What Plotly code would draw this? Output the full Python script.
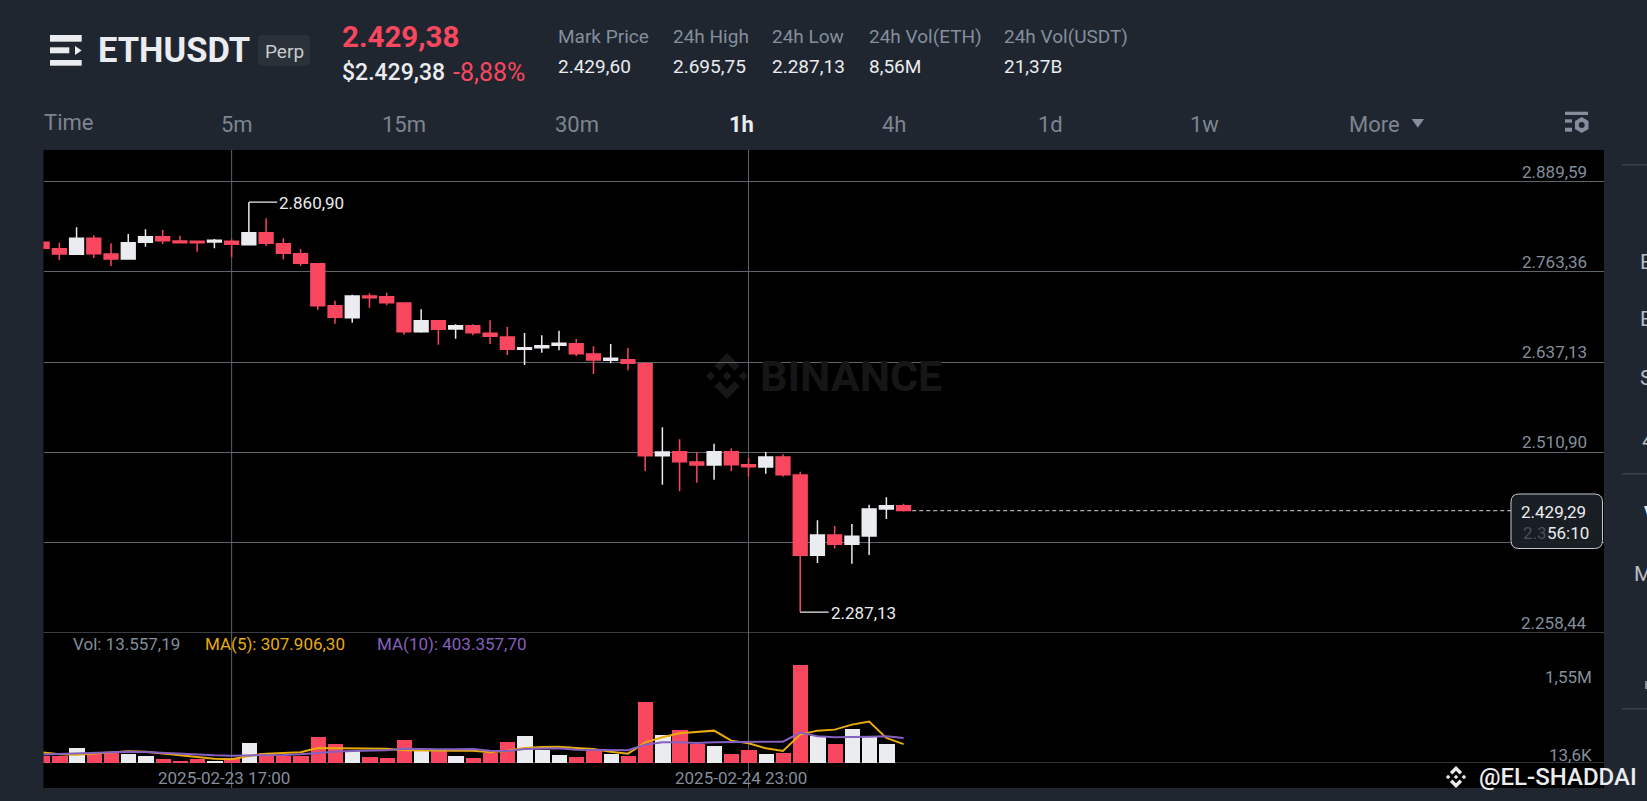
import plotly.graph_objects as go

W, H = 1647, 801

# candles, one hour each, index 0 is cut by the left edge
opens = [2804.7, 2795.9, 2787.9, 2810.3, 2788.4, 2781.4, 2804.7, 2812.7, 2806.6, 2806.1, 2805.2, 2806.1, 2801.5,
         2818.3, 2802.9, 2788.9, 2774.9, 2716.1, 2699.3, 2729.6, 2728.7, 2719.8, 2679.7, 2695.1, 2683.5, 2688.1,
         2677.4, 2672.3, 2655.0, 2657.3, 2660.6, 2662.9, 2648.5, 2639.6, 2640.5, 2634.9, 2506.2, 2511.8, 2497.3,
         2493.1, 2511.8, 2493.6, 2490.3, 2504.3, 2479.1, 2366.7, 2395.2, 2382.1, 2393.8, 2431.6, 2436.2]
highs = [2804.7, 2804.3, 2825.7, 2814.5, 2803.3, 2816.4, 2822.9, 2822.0, 2814.1, 2806.1, 2809.4, 2808.9, 2860.90,
         2838.3, 2810.3, 2795.0, 2774.9, 2723.1, 2731.5, 2733.4, 2734.3, 2720.3, 2711.0, 2696.0, 2690.0, 2690.0,
         2695.6, 2686.3, 2677.9, 2674.6, 2681.1, 2669.5, 2659.2, 2662.5, 2656.9, 2637.3, 2545.8, 2529.1, 2511.3,
         2523.0, 2516.5, 2503.4, 2511.3, 2508.1, 2483.8, 2415.7, 2407.8, 2410.6, 2437.6, 2447.9, 2438.9]
lows = [2796.3, 2780.0, 2787.5, 2782.8, 2771.6, 2780.9, 2798.7, 2802.4, 2803.8, 2791.7, 2796.3, 2783.8, 2800.5,
        2799.6, 2780.9, 2771.6, 2710.0, 2690.9, 2692.3, 2713.3, 2716.6, 2675.5, 2678.3, 2661.5, 2669.9, 2674.6,
        2662.5, 2647.1, 2633.1, 2650.3, 2653.6, 2645.7, 2620.5, 2635.4, 2625.6, 2484.7, 2465.6, 2456.3, 2468.4,
        2472.6, 2484.3, 2476.8, 2481.0, 2476.8, 2287.13, 2356.0, 2376.1, 2355.1, 2367.2, 2417.6, 2428.0]
closes = [2796.3, 2788.4, 2810.3, 2788.9, 2781.4, 2804.3, 2812.7, 2807.1, 2804.3, 2804.3, 2807.5, 2801.9, 2818.3,
          2803.3, 2789.3, 2775.4, 2716.1, 2699.8, 2729.6, 2727.3, 2720.3, 2679.7, 2695.1, 2683.0, 2688.1, 2678.3,
          2673.2, 2655.0, 2657.3, 2660.1, 2663.4, 2648.9, 2640.1, 2642.4, 2635.4, 2506.2, 2511.3, 2497.8, 2493.1,
          2511.8, 2493.6, 2490.8, 2504.3, 2479.6, 2366.7, 2395.2, 2382.1, 2393.3, 2431.6, 2436.2, 2429.29]
volumes = [122600, 133000, 257500, 153700, 174500, 164100, 127800, 86300, 44700, 86300, 44700, 91500, 325000,
           179700, 133000, 133000, 428800, 309400, 200400, 117400, 101800, 376900, 200400, 200400, 122600, 96600,
           179700, 350900, 434000, 216000, 138200, 117400, 242000, 158900, 133000, 963400, 449600, 527400, 319800,
           278300, 164100, 221200, 153700, 174500, 1550000, 439200, 309400, 543000, 418400, 309400, 13557.19]
ma5 = [179700, 148500, 143400, 158900, 179700, 195300, 190100, 164100, 127800, 101800, 81100, 70700, 122600,
       158900, 169300, 179700, 247200, 247200, 247200, 242000, 236800, 210800, 205600, 210800, 205600, 205600,
       179700, 205600, 247200, 262700, 267900, 247200, 231600, 190100, 158900, 335400, 413200, 475500, 496300,
       517000, 361300, 319800, 242000, 200400, 454800, 517000, 532600, 610400, 657200, 402900, 307906.30]
ma10 = [143400, 153700, 164100, 169300, 179700, 190100, 184900, 169300, 153700, 143400, 133000, 127800, 127800,
        133000, 138200, 148500, 174500, 190100, 200400, 205600, 210800, 236800, 226400, 226400, 226400, 231600,
        205600, 200400, 231600, 242000, 242000, 221200, 221200, 210800, 210800, 299000, 335400, 335400, 325000,
        335400, 340600, 345800, 345800, 345800, 485900, 428800, 413200, 413200, 423600, 428800, 403357.70]

price_ticks = [2889.59, 2763.36, 2637.13, 2510.90, 2384.67, 2258.44]
price_labels = ['2.889,59', '2.763,36', '2.637,13', '2.510,90', None, '2.258,44']  # 2.384,67 is behind the price box
vol_ticks = [1550000, 13600]
vol_labels = ['1,55M', '13,6K']
time_ticks = [11, 41]
time_labels = ['2025-02-23 17:00', '2025-02-24 23:00']

RED = '#F9475F'
WHITE = '#EAECEF'
BG = '#1F2630'
GRID = '#5E646C'
GRAY = '#848E9C'
FONT = 'Roboto'

idx = list(range(len(opens)))
bar_colors = [WHITE if c > o else RED for o, c in zip(opens, closes)]


def fx(x):
    return x / W


def fy(y):
    return 1 - y / H


def txt(x, y, s, size=19, color=WHITE, anchor='left', weight=None, **kw):
    return dict(x=fx(x), y=fy(y), xref='paper', yref='paper', text=s, showarrow=False, xanchor=anchor,
                yanchor='middle', font=dict(family=FONT, size=size, color=color, weight=weight), **kw)


def rect(x0, y0, x1, y1, color, layer='above', **kw):
    return dict(type='rect', xref='paper', yref='paper', x0=fx(x0), x1=fx(x1), y0=fy(y0), y1=fy(y1),
                fillcolor=color, line=dict(width=0), layer=layer, **kw)


def poly(points, color, layer='above'):
    path = 'M ' + ' L '.join(f'{fx(x)} {fy(y)}' for x, y in points) + ' Z'
    return dict(type='path', xref='paper', yref='paper', path=path, fillcolor=color, line=dict(width=0), layer=layer)


def round_rect(x0, y0, x1, y1, r, fill, line, layer='above'):
    p = lambda x, y: f'{fx(x)} {fy(y)}'
    path = (f'M {p(x0 + r, y0)} L {p(x1 - r, y0)} Q {p(x1, y0)} {p(x1, y0 + r)} L {p(x1, y1 - r)} '
            f'Q {p(x1, y1)} {p(x1 - r, y1)} L {p(x0 + r, y1)} Q {p(x0, y1)} {p(x0, y1 - r)} '
            f'L {p(x0, y0 + r)} Q {p(x0, y0)} {p(x0 + r, y0)} Z')
    return dict(type='path', xref='paper', yref='paper', path=path, fillcolor=fill, line=line, layer=layer)


# binance diamond logo, r is half the width
def logo(cx, cy, r, color, layer):
    out = []
    for ox, oy, d in [(0, 0, .2), (-.72, 0, .2), (.72, 0, .2)]:
        pts = [(ox, oy - d), (ox + d, oy), (ox, oy + d), (ox - d, oy)]
        out.append(poly([(cx + a * r, cy + b * r) for a, b in pts], color, layer))
    chev = [(0, -1), (.55, -.45), (.33, -.23), (0, -.56), (-.33, -.23), (-.55, -.45)]
    for sign in (1, -1):
        out.append(poly([(cx + a * r, cy + sign * b * r) for a, b in chev], color, layer))
    return out


fig = go.Figure()
fig.add_trace(go.Candlestick(x=idx, open=opens, high=highs, low=lows, close=closes, whiskerwidth=0,
                             increasing=dict(line=dict(color=WHITE, width=1.5), fillcolor=WHITE),
                             decreasing=dict(line=dict(color=RED, width=1.5), fillcolor=RED),
                             hoverinfo='skip', showlegend=False))

# callouts for the high and the low
hi_i = highs.index(max(highs))
lo_i = lows.index(min(lows))
fig.add_trace(go.Scatter(x=[hi_i, hi_i + 1.65], y=[highs[hi_i]] * 2, mode='lines', hoverinfo='skip',
                         line=dict(color=WHITE, width=1.3), showlegend=False))
fig.add_trace(go.Scatter(x=[lo_i, lo_i + 1.65], y=[lows[lo_i]] * 2, mode='lines', hoverinfo='skip',
                         line=dict(color=WHITE, width=1.3), showlegend=False))
# last price
fig.add_trace(go.Scatter(x=[idx[-1] + .5, 85.3], y=[closes[-1]] * 2, mode='lines', hoverinfo='skip',
                         line=dict(color='#A9AEB4', width=1.2, dash='4px,3px'), showlegend=False))

fig.add_trace(go.Bar(x=idx, y=volumes, width=.89, marker=dict(color=bar_colors, line=dict(width=0)),
                     yaxis='y2', hoverinfo='skip', showlegend=False))
fig.add_trace(go.Scatter(x=idx, y=ma5, mode='lines', yaxis='y2', hoverinfo='skip', showlegend=False,
                         line=dict(color='#E8AC0C', width=2)))
fig.add_trace(go.Scatter(x=idx, y=ma10, mode='lines', yaxis='y2', hoverinfo='skip', showlegend=False,
                         line=dict(color='#8560BE', width=2)))

notes = [
    txt(96, 50, 'ETHUSDT', 34.5, WHITE, weight=700),
    txt(284, 51, 'Perp', 19, '#C8CBD0', 'center'),
    txt(340, 37, '2.429,38', 29.5, RED, weight=700),
    txt(340, 72, '$2.429,38', 23, WHITE, weight=500),
    txt(451, 72, '-8,88%', 25, RED),
]
for x, lab, val in [(556, 'Mark Price', '2.429,60'), (671, '24h High', '2.695,75'), (770, '24h Low', '2.287,13'),
                    (867, '24h Vol(ETH)', '8,56M'), (1002, '24h Vol(USDT)', '21,37B')]:
    notes.append(txt(x, 36, lab, 19, GRAY))
    notes.append(txt(x, 67, val, 19, WHITE))

notes.append(txt(42, 122, 'Time', 22, '#7E8590'))
for x, lab in [(237, '5m'), (404, '15m'), (577, '30m'), (894, '4h'), (1050, '1d'), (1204, '1w')]:
    notes.append(txt(x, 125, lab, 22, '#7E8590', 'center'))
notes.append(txt(741, 125, '1h', 22, WHITE, 'center', weight=700))
notes.append(txt(1374, 125, 'More', 22, '#7E8590', 'center'))

# watermark
notes.append(txt(758, 376, 'BINANCE', 43, '#161616', weight=700))

# price labels sit just above their grid line
for t, lab in zip(price_ticks, price_labels):
    if lab:
        notes.append(dict(x=fx(1589), y=t, xref='paper', yref='y', text=lab, showarrow=False, xanchor='right',
                          yanchor='bottom', yshift=-2, font=dict(family=FONT, size=17, color=GRAY)))
for t, lab in zip(vol_ticks, vol_labels):
    notes.append(dict(x=fx(1594), y=t, xref='paper', yref='y2', text=lab, showarrow=False, xanchor='right',
                      yanchor='bottom' if t == vol_ticks[-1] else 'top', yshift=-4 if t == vol_ticks[-1] else -1,
                      font=dict(family=FONT, size=17, color=GRAY)))
for t, lab in zip(time_ticks, time_labels):
    notes.append(dict(x=t, y=fy(778), xref='x', yref='paper', text=lab, showarrow=False, xanchor='center',
                      yanchor='middle', xshift=-8, font=dict(family=FONT, size=17, color=GRAY)))

notes.append(dict(x=hi_i + 1.65, y=highs[hi_i], xref='x', yref='y', text='2.860,90', showarrow=False,
                  xanchor='left', yanchor='middle', yshift=-1, font=dict(family=FONT, size=17, color=WHITE)))
notes.append(dict(x=lo_i + 1.65, y=lows[lo_i], xref='x', yref='y', text='2.287,13', showarrow=False,
                  xanchor='left', yanchor='middle', yshift=-1, font=dict(family=FONT, size=17, color=WHITE)))

notes.append(txt(1588, 512, '2.429,29', 17, WHITE, 'right'))
notes.append(txt(1521, 533, '2.3', 17, '#4A4F56'))
notes.append(txt(1591, 533, '56:10', 17, WHITE, 'right'))

notes.append(txt(71, 644, 'Vol: 13.557,19', 17, GRAY))
notes.append(txt(203, 644, 'MA(5): 307.906,30', 17, '#E8AC0C'))
notes.append(txt(375, 644, 'MA(10): 403.357,70', 17, '#8560BE'))

notes.append(txt(1477, 777, '@EL-SHADDAI', 24, WHITE, weight=500))

# side panel that is cut off by the right edge of the picture
for x, y, lab, col, wt in [(1638, 262, 'E', '#B7BDC6', None), (1638, 319, 'E', '#B7BDC6', None),
                           (1638, 378, 'S', '#B7BDC6', None), (1640, 441, '4', '#B7BDC6', None),
                           (1642, 514, 'V', WHITE, 700), (1632, 574, 'M', '#B7BDC6', None)]:
    notes.append(txt(x, y, lab, 21, col, weight=wt))

shapes = [rect(43.5, 150, 1604, 788, '#000000', 'below')]
shapes += logo(727, 376, 23, '#171717', 'below')
# vertical grid runs through both panes
for t in time_ticks:
    shapes.append(dict(type='line', xref='x', yref='paper', x0=t, x1=t, y0=fy(788), y1=fy(150),
                       line=dict(color=GRID, width=1), layer='below'))
# grid lines that fall on the edge of a pane
shapes.append(dict(type='line', xref='paper', yref='y', x0=fx(43.5), x1=fx(1604), y0=price_ticks[-1], y1=price_ticks[-1],
                   line=dict(color=GRID, width=1), layer='below'))
shapes.append(dict(type='line', xref='paper', yref='y2', x0=fx(43.5), x1=fx(1604), y0=vol_ticks[-1], y1=vol_ticks[-1],
                   line=dict(color=GRID, width=1), layer='below'))
# price box
shapes.append(round_rect(1511, 494, 1602.5, 548.5, 8, 'rgba(27,31,38,0.94)', dict(color='#C5C8CC', width=1)))

# header icon
shapes += [rect(50, 35, 81.7, 41.7, WHITE), rect(50, 47.3, 69.3, 53.3, WHITE), rect(50, 60, 81.7, 65.7, WHITE),
           poly([(75, 46), (81.7, 50.5), (75, 55)], WHITE)]
shapes.append(round_rect(258, 35, 310, 65.7, 4, '#2B3139', dict(width=0), 'below'))
shapes.append(poly([(1411.7, 119), (1424, 119), (1417.8, 127.7)], GRAY))
# settings icon
shapes += [rect(1565, 111.7, 1588, 115, GRAY), rect(1565, 119.3, 1572, 122.7, GRAY), rect(1565, 127.7, 1572, 131.7, GRAY),
           poly([(1581.7, 117), (1588.5, 121), (1588.5, 129), (1581.7, 133), (1575, 129), (1575, 121)], GRAY),
           dict(type='circle', xref='paper', yref='paper', x0=fx(1578.7), x1=fx(1584.7), y0=fy(122), y1=fy(128),
                fillcolor=BG, line=dict(width=0), layer='above')]
shapes += [rect(1622, y, 1647, y + 1.5, '#3A4048') for y in (164, 473, 708)]
shapes.append(rect(1645, 681, 1647, 689, '#848E9C'))
shapes += logo(1456, 777, 11, WHITE, 'above')

fig.update_layout(
    width=W, height=H, margin=dict(l=0, r=0, t=0, b=0), paper_bgcolor=BG, plot_bgcolor='rgba(0,0,0,0)',
    boxgap=.2, boxgroupgap=0, bargap=0, showlegend=False, annotations=notes, shapes=shapes,
    xaxis=dict(domain=[fx(43.5), fx(1604)], range=[.081, 90.65], showgrid=False, showticklabels=False,
               zeroline=False, rangeslider=dict(visible=False), anchor='y2', ticks=''),
    yaxis=dict(domain=[fy(632.7), fy(150)], range=[2258.44, 2933.95], tickvals=price_ticks, showticklabels=False,
               showgrid=True, gridcolor=GRID, gridwidth=1, zeroline=False, anchor='x'),
    yaxis2=dict(domain=[fy(763), fy(632.7)], range=[13600, 2040000], tickvals=[vol_ticks[-1]], showticklabels=False,
                showgrid=True, gridcolor=GRID, gridwidth=1, zeroline=False, anchor='x'),
)

fig.write_html('out.html', config={'displayModeBar': False},
               post_script="document.body.style.margin='0';document.body.style.overflow='hidden';")
